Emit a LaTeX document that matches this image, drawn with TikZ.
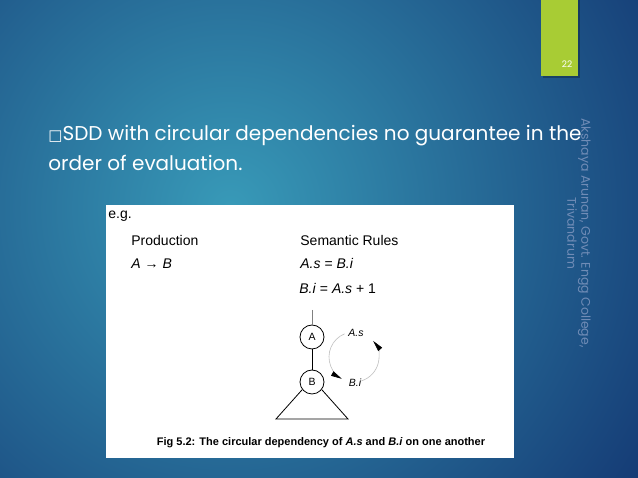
\documentclass[tikz,border=0pt]{standalone}
\usepackage{fontspec}
\setmainfont{Liberation Sans}
\newfontfamily\slidefont{Poppins}
\newfontfamily\symfont{DejaVu Sans}
\usetikzlibrary{arrows.meta}
\definecolor{slidedark}{RGB}{16,46,108}
\definecolor{slidelight}{RGB}{56,154,184}
\definecolor{tabgreen}{RGB}{168,204,52}
\definecolor{credit}{RGB}{112,140,182}

\begin{document}
\begin{tikzpicture}[x=1pt,y=1pt,line width=0.8pt,
  ring/.style={draw,circle,minimum size=24pt,inner sep=0pt,font=\fontsize{10.5}{12}\selectfont},
  dep/.style={draw=black!25,line width=0.6pt,-{Triangle[length=11pt,width=5pt,color=black]}},
  boxtext/.style={anchor=west,inner sep=0pt,font=\fontsize{14}{16}\selectfont},
  attr/.style={font=\itshape\fontsize{10.5}{12}\selectfont}]
\useasboundingbox (0,0) rectangle (638,478);
\fill[slidedark] (0,0) rectangle (638,478);
\begin{scope}
\clip (0,0) rectangle (638,478);
\shade[inner color=slidelight,outer color=slidedark] (230,270) circle (560);
\end{scope}
\fill[black,opacity=0.25] (543,400) rectangle (580,478);
\fill[tabgreen] (541,402) rectangle (578,478);
\node[anchor=east,text=white,font=\slidefont\fontsize{9}{10}\selectfont] (pg) at (576,414) {22};
\node[anchor=base west,inner sep=0pt,text=white,font=\slidefont\fontsize{20}{22}\selectfont] (line1) at (48,337) {{\symfont\fontsize{15}{16}\selectfont □}SDD with circular dependencies no guarantee in the};
\node[anchor=base west,inner sep=0pt,text=white,font=\slidefont\fontsize{20}{22}\selectfont] (line2) at (48,307) {order of evaluation.};
\node[rotate=-90,align=center,text=credit,font=\slidefont\fontsize{12.5}{14}\selectfont] (cr) at (579,245) {Akshaya Arunan, Govt. Engg College,\\Trivandrum};
\fill[white] (106,20) rectangle (514,273);
\node[boxtext] (eg) at (108,262) {e.g.};
\node[boxtext] (prod) at (131,237) {Production};
\node[boxtext] (sem) at (300,237) {Semantic Rules};
\node[boxtext] (prodrule) at (131,214) {\textit{A} → \textit{B}};
\node[boxtext] (rule1) at (300,214) {\textit{A.s} = \textit{B.i}};
\node[boxtext] (rule2) at (299,189) {\textit{B.i} = \textit{A.s} + 1};
\node[ring] (na) at (312,141) {A};
\node[ring] (nb) at (312,96) {B};
\coordinate (top) at (312,168);
\coordinate (tl) at (276,59);
\coordinate (tr) at (348,59);
\draw[black!50] (top) -- (na);
\draw (na) -- (nb);
\draw (nb.218) -- (tl) -- (tr) -- (nb.322);
\node[attr] (as) at (356,145) {A.s};
\node[attr] (bi) at (355,95) {B.i};
\coordinate (dc) at (354,121);
\draw[dep] ([shift={(112:25)}]dc) arc[start angle=112,end angle=241,radius=25];
\draw[dep] ([shift={(-73:25)}]dc) arc[start angle=-73,end angle=40,radius=25];
\node[font=\bfseries\fontsize{11}{13}\selectfont] (cap) at (321,35) {Fig 5.2: The circular dependency of \textit{A.s} and \textit{B.i} on one another};
\end{tikzpicture}
\end{document}
